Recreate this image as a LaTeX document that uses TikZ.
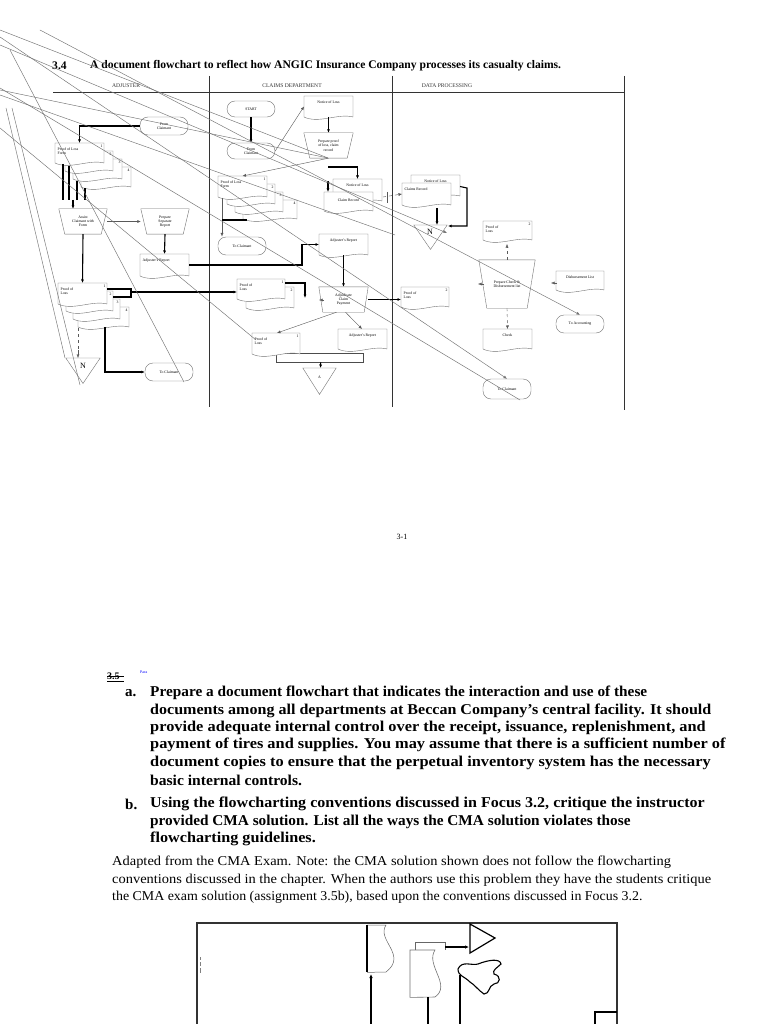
\documentclass[tikz,border=0pt]{standalone}
\usepackage{fontspec}
\setmainfont{Liberation Serif}
\usetikzlibrary{arrows.meta,calc}
\tikzset{
 lane/.style={line width=0.9pt, black!80},
 thk/.style={line width=1.1pt, black, -{Latex[length=3.5pt,width=3pt]}},
 thkl/.style={line width=1.1pt, black},
 thn/.style={line width=0.4pt, black!65, -{Latex[length=3.5pt,width=3pt]}},
 thnl/.style={line width=0.4pt, black!65},
 docbox/.style={inner sep=0pt, outer sep=0pt},
 docline/.style={line width=0.4pt, draw=black!55, fill=white},
 shline/.style={line width=0.4pt, draw=black!55},
 tiny/.style={font=\fontsize{3.8}{4.2}\selectfont, align=center, inner sep=0pt},
 hdr/.style={font=\fontsize{5.6}{6}\selectfont, inner sep=0pt, text=black!80},
 stray/.style={line width=0.45pt, black!55},
 strayarr/.style={line width=0.45pt, black!55, -{Latex[length=3.5pt,width=3pt]}},
 term/.style={draw=black!55, line width=0.4pt, rounded corners=8pt, minimum width=48pt, minimum height=18pt, inner sep=0pt, font=\fontsize{3.8}{4.2}\selectfont, align=center},
 itemtxt/.style={anchor=west, inner sep=0pt, font=\bfseries\fontsize{15}{17}\selectfont},
 paratxt/.style={anchor=west, inner sep=0pt, font=\fontsize{13.5}{15}\selectfont},
}
\newcommand{\mydoc}[5]{%
 \node[docbox, anchor=north west, minimum width=#4pt, minimum height=#5pt] (#1) at (#2,#3) {};
 \path[docline] (#1.south west) -- (#1.north west) -- (#1.north east) -- (#1.south east)
   .. controls ($(#1.south east)!0.3!(#1.south west)+(0,4pt)$) and ($(#1.south east)!0.7!(#1.south west)+(0,-7pt)$) .. (#1.south west) -- cycle;
}
\newcommand{\doctl}[2]{\node[tiny,anchor=north west,align=left] at ($(#1.north west)+(2.5pt,-4.5pt)$) {#2};}
\newcommand{\doctc}[2]{\node[tiny,anchor=north] at ($(#1.north)+(0,-4.5pt)$) {#2};}
\newcommand{\docnum}[2]{\node[tiny,anchor=north east] at ($(#1.north east)+(-1.2pt,-1.5pt)$) {#2};}
\newcommand{\mytrap}[7]{%
 \node[tiny, minimum width=#4pt, minimum height=#5pt] (#1) at (#2,#3) {#7};
 \draw[shline] (#1.north west) -- (#1.north east) -- ($(#1.south east)+(-#6pt,0)$) -- ($(#1.south west)+(#6pt,0)$) -- cycle;
}
\newcommand{\mytri}[5]{%
 \node[inner sep=0pt, minimum width=#4pt, minimum height=#5pt, anchor=north] (#1) at (#2,#3) {};
 \draw[shline] (#1.north west) -- (#1.north east) -- (#1.south) -- cycle;
}
\begin{document}
\begin{tikzpicture}[x=1pt,y=-1pt]
\useasboundingbox[fill=white] (0,0) rectangle (768,1024);

% ---------- title ----------
\node[anchor=west, inner sep=0, font=\bfseries\fontsize{11.6}{13}\selectfont] (num34) at (52,66) {3.4};
\node[anchor=west, inner sep=0, font=\bfseries\fontsize{11.6}{13}\selectfont] (title) at (90,66) {A document flowchart to reflect how ANGIC Insurance Company processes its casualty claims.};

% ---------- lanes ----------
\draw[lane] (53,92) -- (624,92);
\draw[lane] (209,76) -- (209,407);
\draw[lane] (392,76) -- (392,407);
\draw[lane] (624,76) -- (624,410);
\node[hdr] (hA) at (126,86) {ADJUSTER};
\node[hdr] (hC) at (292,86) {CLAIMS DEPARTMENT};
\node[hdr] (hD) at (447,86) {DATA PROCESSING};

% ---------- adjuster lane ----------
\node[term] (fc1) at (164,126) {From\\Claimant};
\mydoc{plf4}{81}{167}{50}{20}\docnum{plf4}{4}
\mydoc{plf3}{73}{159}{49}{20}\docnum{plf3}{3}
\mydoc{plf2}{65}{151}{48}{20}\docnum{plf2}{2}
\mydoc{plf1}{55}{143}{49}{20}\docnum{plf1}{1}\doctl{plf1}{Proof of Loss\\Form}
\draw[thk] (fc1.west) -| (plf1.north);
\draw[thkl] (63,164) -- (63,200);
\draw[thkl] (69,166) -- (69,200);
\draw[thkl] (77,181) -- (77,200);
\draw[thkl] (85,188) -- (85,200);
\mytrap{assist}{83}{221.5}{48}{25}{6}{Assist\\Claimant with\\Form}
\draw[thk] (73,200) -- ($(assist.north)+(-10pt,0)$);
\mytrap{prepsep}{165}{221.5}{48}{25}{6}{Prepare\\Separate\\Report}
\draw[thn] (assist.east) -- (prepsep.west);
\mydoc{adj1}{140}{254}{49}{22}\doctl{adj1}{Adjuster's Report}
\draw[thk] (prepsep.south) -- (adj1.north);

\mydoc{plA4}{78}{307}{51}{20}\docnum{plA4}{4}
\mydoc{plA3}{73}{299}{47}{20}\docnum{plA3}{3}
\mydoc{plA2}{66}{291}{47}{20}\docnum{plA2}{2}
\mydoc{plA1}{58}{283}{49}{21}\docnum{plA1}{1}\doctl{plA1}{Proof of\\Loss}
\draw[thk] (assist.south) -- (plA1.north);
\draw[thkl] (107,289) -- (131,289) -- (131,297) -- (113,297);
\coordinate (jA) at (131,292);
\node[term] (tc1) at (169,372) {To Claimant};
\draw[thk] (105,327) |- (tc1.west);
\draw[thnl, dashed] (78,328) -- (78,350);
\mytri{n1}{83}{358}{34}{25}
\draw[thn] (78,350) -- (78,358);
\node[inner sep=0, font=\fontsize{8}{9}\selectfont] (n1l) at (83,366) {N};

% ---------- claims lane ----------
\node[term, minimum height=16pt] (start) at (251,109) {START};
\node[term, minimum height=16pt] (fc2) at (251,151) {From\\Claimant};
\draw[thk] (start.south) -- (fc2.north);
\mydoc{nol1}{304}{96}{49}{21}\doctc{nol1}{Notice of Loss}
\draw[thn] (fc2.east) -- (nol1.west);
\mytrap{pproof}{328.5}{145.5}{49}{25}{6}{Prepare proof\\of loss, claim\\record}
\draw[thk] (nol1.south) -- (pproof.north);

\mydoc{pcf4}{243}{200}{54}{19}\docnum{pcf4}{4}
\mydoc{pcf3}{235}{192}{48}{20}\docnum{pcf3}{3}
\mydoc{pcf2}{227}{184}{48}{20}\docnum{pcf2}{2}
\mydoc{pcf1}{218}{176}{49}{21}\docnum{pcf1}{1}\doctl{pcf1}{Proof of Loss\\Form}
\draw[thn] (pproof.south) -- (pcf1.north);
\node[term] (tc2) at (242,246) {To Claimant};
\draw[thn] (222,198) -- (222,236.5);
\draw[thkl] (222,220) -- (247,220);

\mydoc{nol2}{333}{179}{49}{22}\doctc{nol2}{Notice of Loss}
\mydoc{crec}{324}{192}{49}{19}\node[tiny] at ($(crec.center)+(0,1pt)$) {Claim Record};
\coordinate (jB) at (328,167);
\draw[thk] (jB) -| (nol2.north);
\draw[thk] (328,181) -- ($(crec.north west)+(4pt,0)$);
\mydoc{adj2}{319}{234}{49}{21}\doctc{adj2}{Adjuster's Report}
\draw[thk] (adj1.east) -| ($(adj2.west)+(-17pt,0)$) -- (adj2.west);
\mytrap{adjud}{343.5}{299.5}{49}{25}{4}{Adjudicate\\Claim\\Payment}
\draw[thk] (adj2.south) -- (adjud.north);
\mydoc{pcm2}{246}{287}{48}{21}\docnum{pcm2}{2}
\mydoc{pcm1}{237}{279}{48}{20}\docnum{pcm1}{1}\doctl{pcm1}{Proof of\\Loss}
\draw[thk] (jA) -- (jA -| pcm1.west);
\draw[thk] (285,283) -| (305,298);
\draw[thn] (324,300) -- (319,300);
\node[draw=black!70, line width=0.4pt, inner sep=0, minimum width=87pt, minimum height=9pt, anchor=north west] (mrg) at (276,353) {};
\mydoc{pcl}{252}{333}{48}{21}\docnum{pcl}{1}\doctl{pcl}{Proof of\\Loss}
\mydoc{adj3}{338}{329}{49}{20}\doctc{adj3}{Adjuster's Report}
\draw[thn] ($(adjud.south)+(-7pt,0)$) -- ($(pcl.north)+(1pt,0)$);
\draw[thn] ($(adjud.south)+(2pt,0)$) -- ($(adj3.north)+(-0.5pt,0)$);
\mytri{ta}{319.5}{368}{33}{26}
\node[tiny] (tal) at (319.5,377) {A};
\draw[thk] ($(mrg.south)+(1pt,0)$) -- ($(ta.north)+(1pt,0)$);

% ---------- data processing lane ----------
\mydoc{nol3}{411}{175}{49}{21}\doctc{nol3}{Notice of Loss}
\mydoc{crec2}{402}{183}{49}{22}\doctl{crec2}{Claims Record}
\draw[thn, dashed] (383,197) -- (crec2.west);
\draw[thnl] (387,192) -- (387,203);
\mytri{n2}{430.5}{225}{33}{24}
\node[inner sep=0, font=\fontsize{8}{9}\selectfont] (n2l) at (430,232) {N};
\draw[thk] (437,208) -- (437,225);
\draw[thk] (nol3.east) ++(0,-1pt) -- (467,188) -- (467,226) -- (448,226);
\mydoc{pld}{401}{287}{48}{20}\docnum{pld}{2}\doctl{pld}{Proof of\\Loss}
\draw[thk] (adjud.east) -- (adjud.east -| pld.west);
\mydoc{pld2}{483}{221}{49}{19}\docnum{pld2}{2}\doctl{pld2}{Proof of\\Loss}
\mytrap{pchk}{507}{284}{56}{48}{8}{Prepare Check \&\\Disbursement list}
\draw[thn, dashed] (pchk.north) -- (507,244);
\draw[thn] (484,284) -- (478,284);
\mydoc{dl}{556}{271}{48}{19}\doctc{dl}{Disbursement List}
\draw[thn] (557,283) -- (551,283);
\node[term] (tacc) at (580,324) {To Accounting};
\mydoc{chk}{483}{329}{49}{20}\doctc{chk}{Check}
\draw[thn, dashed] (pchk.south) -- (chk.north);
\node[term, minimum height=20pt] (tc3) at (507,389) {To Claimant};

% ---------- stray scan lines ----------
\draw[strayarr] (40,30) -- (tacc.north);
\draw[strayarr] (0,45) -- (447,233);
\draw[strayarr] (0,37) -- (tc3.north);
\draw[stray] (0,88) -- (520,400);
\draw[stray] (0,30) -- (328,158);
\draw[stray] (0,90) -- (328,158);
\draw[stray] (0,95) -- (395,235);
\draw[stray] (10,50) -- (184,382);
\draw[stray] (0,128) -- (256,340);
\draw[stray] (6,108) -- (65,358);
\draw[stray] (12,108) -- (80,385);

% ---------- page number ----------
\node[inner sep=0, font=\fontsize{8}{9}\selectfont] (pg) at (402,537) {3-1};

% ---------- exercise 3.5 ----------
\node[anchor=west, inner sep=0, font=\bfseries\fontsize{10}{12}\selectfont] (n35) at (107,676) {3.5};
\draw[line width=0.6pt] (107,676) -- (124,676);
\draw[line width=0.6pt] (107,681) -- (124,681);
\node[anchor=west, inner sep=0, text=blue, font=\fontsize{4}{5}\selectfont] (para) at (140,672) {Para};
\node[itemtxt] (ia) at (125,693) {a.};
\node[itemtxt] (a1) at (150,693) {\scalebox{1.02}[1]{Prepare a document flowchart that indicates the interaction and use of these}};
\node[itemtxt] (a2) at (150,711) {\scalebox{1.07}[1]{documents among all departments at Beccan Company's central facility. It should}};
\node[itemtxt] (a3) at (150,728) {\scalebox{1.09}[1]{provide adequate internal control over the receipt, issuance, replenishment, and}};
\node[itemtxt] (a4) at (150,745) {\scalebox{1.09}[1]{payment of tires and supplies. You may assume that there is a sufficient number of}};
\node[itemtxt] (a5) at (150,763) {\scalebox{1.09}[1]{document copies to ensure that the perpetual inventory system has the necessary}};
\node[itemtxt] (a6) at (150,780) {\scalebox{1.04}[1]{basic internal controls.}};
\node[itemtxt] (ib) at (125,804) {b.};
\node[itemtxt] (b1) at (150,804) {\scalebox{1.07}[1]{Using the flowcharting conventions discussed in Focus 3.2, critique the instructor}};
\node[itemtxt] (b2) at (150,822) {\scalebox{1.02}[1]{provided CMA solution. List all the ways the CMA solution violates those}};
\node[itemtxt] (b3) at (150,839) {\scalebox{1.08}[1]{flowcharting guidelines.}};
\node[paratxt] (p1) at (112,862) {\scalebox{1.07}[1]{Adapted from the CMA Exam. Note: the CMA solution shown does not follow the flowcharting}};
\node[paratxt] (p2) at (112,880) {\scalebox{1.07}[1]{conventions discussed in the chapter. When the authors use this problem they have the students critique}};
\node[paratxt] (p3) at (112,897) {\scalebox{1.03}[1]{the CMA exam solution (assignment 3.5b), based upon the conventions discussed in Focus 3.2.}};

% ---------- embedded CMA figure ----------
\draw[line width=1.2pt, black!80] (197,1030) -- (197,923) -- (617,923) -- (617,1030);
\draw[line width=0.5pt, black!50] (200,957) -- (200,960) (200,962) -- (200,966) (200,968) -- (200,973);
\node[inner sep=0, anchor=north west, minimum width=20pt, minimum height=47pt] (cd1) at (367,925) {};
\draw[line width=0.5pt, black!60] (cd1.north west) -- (386,925) .. controls (376,940) and (408,955) .. (386,972) -- (cd1.south west);
\draw[line width=1.2pt] (cd1.north west) -- (cd1.south west);
\draw[line width=1.2pt, -{Latex[length=4pt,width=3.5pt]}] (371,1030) -- (371,974);
\node[inner sep=0, anchor=north west, minimum width=20pt, minimum height=47pt] (cd2) at (410,950) {};
\draw[line width=0.5pt, black!60] (415,950) -- (415,942) -- (445,942) -- (445,950);
\draw[line width=0.6pt, black!55] (cd2.north west) -- (435,950) .. controls (425,965) and (452,985) .. (435,997) -- (cd2.south west) -- cycle;
\draw[line width=1.2pt] (428,997) -- (428,1030);
\node[inner sep=0, minimum width=25pt, minimum height=29pt] (ctri) at (482,938) {};
\draw[line width=1.2pt] (470,924) -- (470,953) -- (495,938) -- cycle;
\draw[line width=1.2pt, -{Latex[length=4pt,width=3.5pt]}] (445,947) -- (469,947);
\draw[line width=1.1pt] (458,969) .. controls (462,960) and (472,966) .. (478,964) .. controls (488,960) and (500,958) .. (501,964) .. controls (497,968) and (492,970) .. (494,974) .. controls (502,976) and (500,984) .. (494,984) .. controls (488,986) and (490,994) .. (484,994) .. controls (478,990) and (475,985) .. (470,982) .. controls (464,976) and (458,976) .. (458,969) -- cycle;
\draw[line width=1.2pt] (460,975) -- (460,1030);
\draw[line width=1.2pt] (595,1030) -- (595,1012) -- (617,1012);
\end{tikzpicture}
\end{document}
